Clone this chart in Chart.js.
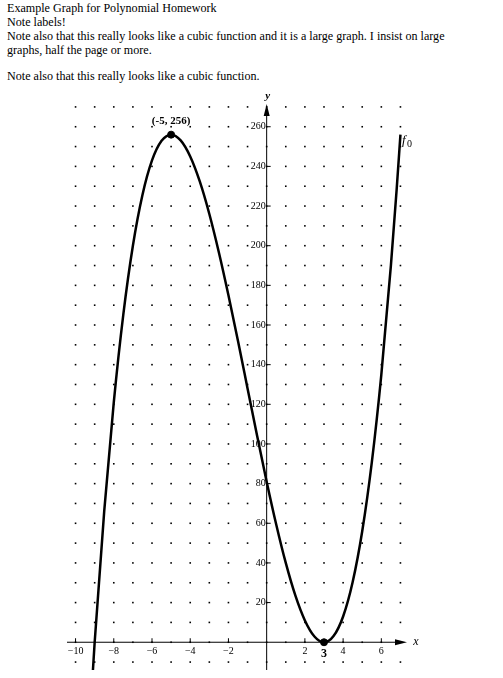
<!DOCTYPE html>
<html><head><meta charset="utf-8">
<script src="https://cdn.jsdelivr.net/npm/chart.js@4"></script>
<style>
body{margin:0;background:#fff;width:503px;height:678px;overflow:hidden;position:relative}
#hdr{position:absolute;left:7px;top:1px;font-family:"Liberation Serif",serif;font-size:12.1px;line-height:14px;color:#000;width:460px}
#wrap{position:absolute;left:0;top:0;width:503px;height:678px}
</style></head><body>
<div id="hdr">Example Graph for Polynomial Homework<br>Note labels!<br>Note also that this really looks like a cubic function and it is a large graph. I insist on large graphs, half the page or more.<br><div style="height:12px"></div>Note also that this really looks like a cubic function.</div>
<div id="wrap"><canvas id="c" width="503" height="678"></canvas></div>
<script>
const xs=[-9.5,-9,-8.5,-8,-7.5,-7,-6.5,-6,-5.5,-5,-4.5,-4,-3.5,-3,-2.5,-2,-1.5,-1,-0.5,0,0.5,1,1.5,2,2.5,3,3.5,4,4.5,5,5.5,6,6.5,6.8,7];
const ys=[-78,0,66.1,121,165.4,200,225.6,243,252.9,256,253.1,245,232.4,216,196.6,175,151.9,128,104.1,81,59.4,40,23.6,11,2.9,0,3.1,13,30.4,56,90.6,135,189.9,228.2,256];
const keyX=[-5,3], keyY=[256,0];
const xTicks=[-10,-8,-6,-4,-2,2,4,6];
const yTicks=[20,40,60,80,100,120,140,160,180,200,220,240,260];
const serif='"Liberation Serif", serif';
const deco={id:'deco',beforeDatasetsDraw(ch){
 const c=ch.ctx,X=ch.scales.x,Y=ch.scales.y;c.save();
 c.fillStyle='#000';
 for(let i=-10;i<=7;i++)for(let j=-10;j<=270;j+=10){c.fillRect(X.getPixelForValue(i)-0.8,Y.getPixelForValue(j)-0.8,1.6,1.6);}
 const x0=X.getPixelForValue(0),y0=Y.getPixelForValue(0);
 c.strokeStyle='#000';c.lineWidth=1;
 c.beginPath();c.moveTo(x0,670);c.lineTo(x0,110);c.moveTo(67,y0);c.lineTo(396,y0);c.stroke();
 c.beginPath();c.moveTo(x0,104);c.lineTo(x0-3,116);c.lineTo(x0+3,116);c.fill();
 c.beginPath();c.moveTo(407,y0);c.lineTo(395,y0-3);c.lineTo(395,y0+3);c.fill();
 c.font='italic bold 11px '+serif;c.textAlign='center';c.fillText('y',x0+1,99);
 c.font='italic 12px '+serif;c.fillText('x',416,645);
 c.font='10px '+serif;c.textAlign='right';c.textBaseline='middle';
 yTicks.forEach(v=>{const p=Y.getPixelForValue(v);c.fillText(String(v),x0-1,p);c.beginPath();c.moveTo(x0,p);c.lineTo(x0+4,p);c.stroke();});
 c.textAlign='center';c.textBaseline='top';
 xTicks.forEach(v=>{const p=X.getPixelForValue(v);c.fillText(v<0?'\u2212'+(-v):String(v),p,y0+4);c.beginPath();c.moveTo(p,y0);c.lineTo(p,y0-4);c.stroke();});
 c.font='bold 12px '+serif;c.fillText('3',X.getPixelForValue(3),y0+6);
 c.textBaseline='alphabetic';c.font='bold 11px '+serif;
 c.fillText('(-5, 256)',X.getPixelForValue(-5),Y.getPixelForValue(256)-11);
 c.textAlign='left';c.font='italic 13px '+serif;c.fillText('f',402,144);c.font='10px '+serif;c.fillText('0',407,147);
 c.restore();}};
new Chart(document.getElementById('c'),{type:'line',
 data:{datasets:[
  {data:keyX.map((x,i)=>({x,y:keyY[i]})),showLine:false,pointRadius:3.5,pointBackgroundColor:'#000',pointBorderColor:'#000'},
  {data:xs.map((x,i)=>({x,y:ys[i]})),borderColor:'#000',borderWidth:2.5,pointRadius:0,cubicInterpolationMode:'monotone'}]},
 options:{responsive:false,animation:false,events:[],
  layout:{padding:{left:66,right:93,top:97,bottom:8}},
  plugins:{legend:{display:false},tooltip:{enabled:false}},
  scales:{x:{type:'linear',min:-10.5,max:7.5,display:false},y:{min:-14,max:275,display:false}}},
 plugins:[deco]});
</script></body></html>
